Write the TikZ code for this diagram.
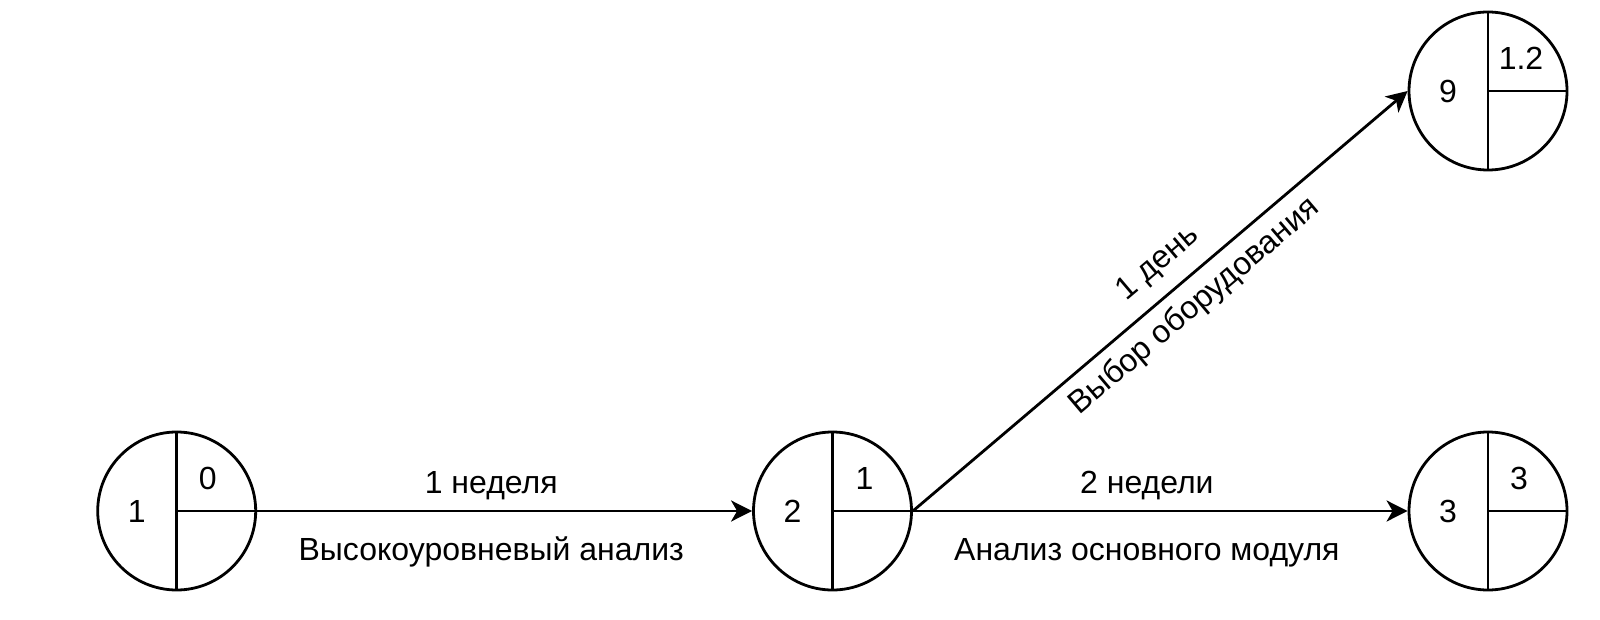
\documentclass[tikz,border=0pt]{standalone}
\usepackage{fontspec}
\setmainfont{Liberation Sans}
\usetikzlibrary{arrows.meta}

\begin{document}
\begin{tikzpicture}[
  x=1pt, y=-1pt,
  every node/.style={inner sep=0pt, font=\fontsize{32}{38}\selectfont},
  event/.style={circle, draw, line width=2.8pt, minimum size=158pt},
  work/.style={line width=2.8pt, -{Stealth[length=21pt, width=21pt, inset=6pt]}}
]
\useasboundingbox (0,0) rectangle (1600,620);
% events
\node[event] (n1) at (176.7,511) {};
\node[event] (n2) at (832.5,511) {};
\node[event] (n3) at (1488,511) {};
\node[event] (n9) at (1488,91) {};
\draw[line width=2.8pt] (n1.north) -- (n1.south) (n1.center) -- (n1.east);
\draw[line width=2.8pt] (n2.north) -- (n2.south) (n2.center) -- (n2.east);
\draw[line width=2.8pt] (n3.north) -- (n3.south) (n3.center) -- (n3.east);
\draw[line width=2.8pt] (n9.north) -- (n9.south) (n9.center) -- (n9.east);
% numbers
\node (n1a) at ([xshift=-40pt]n1.center) {1};
\node (n1b) at ([xshift=31pt, yshift=33pt]n1.center) {0};
\node (n2a) at ([xshift=-40pt]n2.center) {2};
\node (n2b) at ([xshift=32pt, yshift=33pt]n2.center) {1};
\node (n3a) at ([xshift=-40pt]n3.center) {3};
\node (n3b) at ([xshift=31pt, yshift=33pt]n3.center) {3};
\node (n9a) at ([xshift=-40pt]n9.center) {9};
\node (n9b) at ([xshift=33pt, yshift=33pt]n9.center) {1.2};
% works
\draw[work] (n1.east) -- (n2.west)
  node[pos=0.473, anchor=base, yshift=18pt] (w12t) {1 неделя}
  node[pos=0.473, anchor=base, yshift=-49pt] (w12b) {Высокоуровневый анализ};
\draw[work] (n2.east) -- (n3.west)
  node[pos=0.473, anchor=base, yshift=18pt] (w23t) {2 недели}
  node[pos=0.473, anchor=base, yshift=-49pt] (w23b) {Анализ основного модуля};
\draw[work] (n2.east) -- (n9.west)
  node[pos=0.535, sloped, anchor=base, yshift=22pt] (w29t) {1 день}
  node[pos=0.535, sloped, anchor=base, yshift=-35pt] (w29b) {Выбор оборудования};
\end{tikzpicture}
\end{document}
